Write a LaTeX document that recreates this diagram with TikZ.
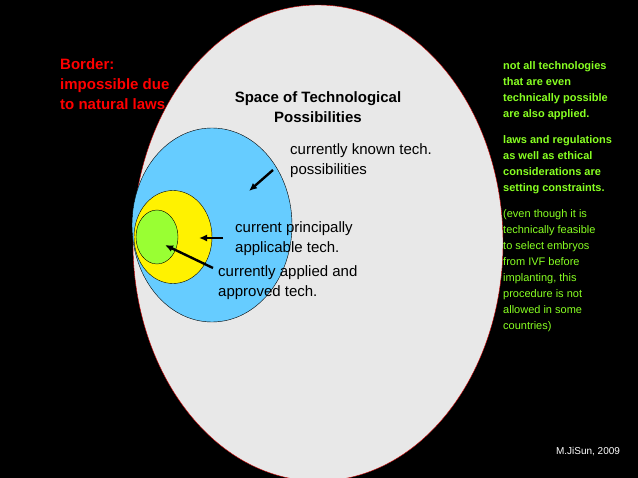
\documentclass[tikz,border=0pt]{standalone}
\usepackage{fontspec}
\usetikzlibrary{shapes.geometric,arrows.meta}
\setmainfont{Liberation Sans}
\definecolor{skyb}{HTML}{66CCFF}
\definecolor{lgrn}{HTML}{99FF33}
\definecolor{tgrn}{HTML}{88FF22}
\begin{document}
\begin{tikzpicture}[x=1pt,y=-1pt,
 lbl/.style={anchor=north west,align=left,inner sep=0pt,font=\fontsize{15}{20}\selectfont},
 grn/.style={anchor=north west,align=left,inner sep=0pt,text=tgrn,font=\bfseries\fontsize{11}{16}\selectfont},
 arr/.style={-{Latex[length=8pt,width=7pt]},line width=2.4pt}]
\fill[black] (0,0) rectangle (638,478);
\useasboundingbox (0,0) rectangle (638,478);
\begin{scope}
\clip (0,0) rectangle (638,478);
\node[draw=red!80!black,fill=gray!18,ellipse,minimum width=370,minimum height=476,inner sep=0] (big) at (318,243) {};
\end{scope}
\node[draw=black,fill=skyb,ellipse,minimum width=160,minimum height=194,inner sep=0] (blue) at (212,225) {};
\node[draw=black,fill=yellow,ellipse,minimum width=78,minimum height=93,inner sep=0] (yel) at (173,237) {};
\node[draw=black,fill=lgrn,ellipse,minimum width=42,minimum height=54,inner sep=0] (grn) at (157,237) {};
\node[lbl,text=red,font=\bfseries\fontsize{15}{20}\selectfont] (border) at (60,58) {Border:\\impossible due\\to natural laws};
\node[align=center,inner sep=0pt,font=\bfseries\fontsize{15}{20}\selectfont] (title) at (318,107) {Space of Technological\\Possibilities};
\node[lbl] (known) at (290,143) {currently known tech.\\possibilities};
\node[lbl] (princ) at (235,221) {current principally\\applicable tech.};
\node[lbl] (appl) at (218,265) {currently applied and\\approved tech.};
\node[grn] (g1) at (503,61) {not all technologies\\that are even\\technically possible\\are also applied.\\[10pt]laws and regulations\\as well as ethical\\considerations are\\setting constraints.};
\node[grn,font=\fontsize{11}{16}\selectfont] (g2) at (503,209) {(even though it is\\technically feasible\\to select embryos\\from IVF before\\implanting, this\\procedure is not\\allowed in some\\countries)};
\node[text=white,font=\fontsize{10}{11}\selectfont] (cr) at (588,452) {M.JiSun, 2009};
\coordinate (a1) at (273,170); \coordinate (b1) at (249,191);
\coordinate (a2) at (223,238); \coordinate (b2) at (199,238);
\coordinate (a3) at (213,268); \coordinate (b3) at (165,245);
\draw[arr] (a1)--(b1); \draw[arr] (a2)--(b2); \draw[arr] (a3)--(b3);
\end{tikzpicture}
\end{document}
